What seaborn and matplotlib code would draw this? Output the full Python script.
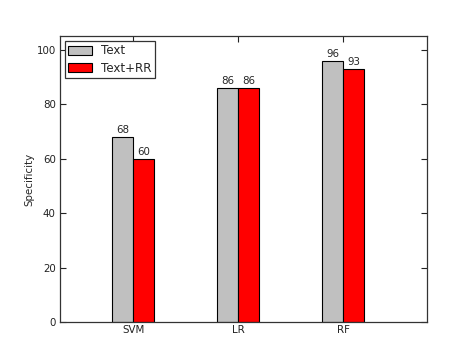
import matplotlib
matplotlib.use("Agg")
import matplotlib.pyplot as plt
import seaborn as sns
import pandas as pd

classifiers = ["SVM", "LR", "RF"]
series_names = ["Text", "Text+RR"]
text_vals = [68, 86, 96]
text_rr_vals = [60, 86, 93]
colors = ["#c0c0c0", "#ff0000"]

sns.set_style("ticks")
plt.rcParams["font.family"] = ["DejaVu Sans"]

df = pd.DataFrame({
    "Classifier": classifiers * 2,
    "Series": [series_names[0]] * 3 + [series_names[1]] * 3,
    "Specificity": text_vals + text_rr_vals,
})

fig = plt.figure(figsize=(4.74, 3.57), dpi=100)
ax = fig.add_axes([0.1266, 0.098, 0.7742, 0.801])
sns.barplot(data=df, x="Classifier", y="Specificity", hue="Series",
            palette=colors, width=0.4, edgecolor="black", linewidth=0.8,
            saturation=1, ax=ax)

for cont in ax.containers:
    ax.bar_label(cont, fontsize=7.4, padding=1)

ax.set_xlim(-0.7, 2.8)
ax.set_ylim(0, 105)
ax.set_yticks([0, 20, 40, 60, 80, 100])
ax.set_xlabel("")
ax.set_ylabel("Specificity", fontsize=7.4, labelpad=1.5)
ax.tick_params(direction="in", top=True, right=True, labelsize=7.4, length=4, width=0.8, colors="#222222")
ax.tick_params(axis="x", pad=2.5)
ax.tick_params(axis="y", pad=3)
for s in ax.spines.values():
    s.set_visible(True)
    s.set_color("#333333")
    s.set_linewidth(0.9)

leg = ax.legend(loc="upper left", fontsize=8.6, frameon=True, fancybox=False,
                handlelength=2.0, handleheight=0.85, handletextpad=0.7,
                borderpad=0.3, labelspacing=0.35, borderaxespad=0.4)
leg.get_frame().set_edgecolor("#333333")
leg.get_frame().set_linewidth(0.9)
leg.get_frame().set_alpha(1)
leg.set_title(None)

fig.savefig("out.png", dpi=100)
